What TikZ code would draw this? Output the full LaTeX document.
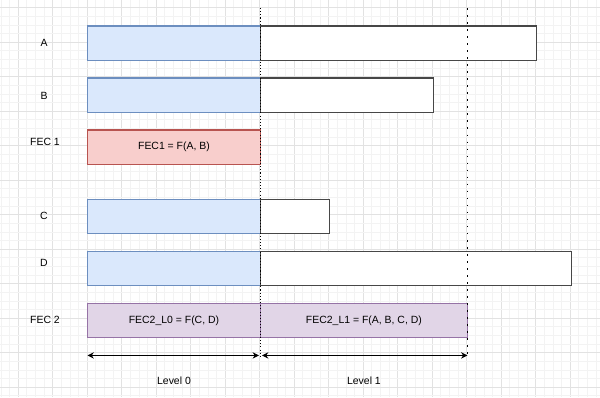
\documentclass[tikz,border=0pt]{standalone}
\usepackage{fontspec}
\setmainfont{Liberation Sans}
\usetikzlibrary{arrows.meta, positioning}
\definecolor{levelblue}{HTML}{DAE8FC}
\definecolor{levelbluedraw}{HTML}{6C8EBF}
\definecolor{fecred}{HTML}{F8CECC}
\definecolor{fecreddraw}{HTML}{B85450}
\definecolor{fecpurple}{HTML}{E1D5E7}
\definecolor{fecpurpledraw}{HTML}{9673A6}
\definecolor{gridminor}{HTML}{F3F3F3}
\definecolor{gridmajor}{HTML}{E2E2E2}

\begin{document}
\begin{tikzpicture}[
  x=0.02cm, y=-0.02cm,
  node distance=0.35cm and 0cm,
  bar/.style={rectangle, draw, line width=0.6pt, minimum height=0.69cm,
              inner sep=0pt, outer sep=0pt,
              font=\fontsize{5.95pt}{7pt}\selectfont},
  lvl/.style={bar, fill=levelblue, draw=levelbluedraw, minimum width=3.46cm},
  rest/.style={bar, fill=white, draw=black!72},
  lbl/.style={font=\fontsize{5.95pt}{7pt}\selectfont, inner sep=0pt},
  dim/.style={{Stealth[length=3.6pt, width=3.6pt]}-{Stealth[length=3.6pt, width=3.6pt]},
              line width=0.6pt},
  cut/.style={line width=0.6pt, dash pattern=on 0.6pt off 1.2pt},
  cutwide/.style={line width=0.9pt, dash pattern=on 0.9pt off 3.1pt},
]
  \useasboundingbox (0,0) rectangle (600,397);
  \fill[white] (0,0) rectangle (600,397);

  % background grid
  \foreach \i in {0,...,69} {
    \pgfmathtruncatemacro{\m}{mod(\i+2,4)}
    \ifnum\m=0
      \draw[gridmajor, line width=0.5pt] (1.05+8.625*\i,0) -- (1.05+8.625*\i,397);
    \else
      \draw[gridminor, line width=0.5pt] (1.05+8.625*\i,0) -- (1.05+8.625*\i,397);
    \fi
  }
  \foreach \i in {0,...,46} {
    \pgfmathtruncatemacro{\m}{mod(\i+3,4)}
    \ifnum\m=0
      \draw[gridmajor, line width=0.5pt] (0,-0.875+8.625*\i) -- (600,-0.875+8.625*\i);
    \else
      \draw[gridminor, line width=0.5pt] (0,-0.875+8.625*\i) -- (600,-0.875+8.625*\i);
    \fi
  }

  % first group
  \node[lvl, anchor=north west] (blueA) at (87.5,26) {};
  \node[rest, minimum width=5.53cm, right=0cm of blueA] (restA) {};
  \node[lvl, below=of blueA] (blueB) {};
  \node[rest, minimum width=3.46cm, right=0cm of blueB] (restB) {};
  \node[bar, fill=fecred, draw=fecreddraw, minimum width=3.46cm, below=of blueB]
    (fec1) {FEC1 = F(A, B)};

  % second group
  \node[lvl, below=0.7cm of fec1] (blueC) {};
  \node[rest, minimum width=1.39cm, right=0cm of blueC] (restC) {};
  \node[lvl, below=of blueC] (blueD) {};
  \node[rest, minimum width=6.22cm, right=0cm of blueD] (restD) {};
  \node[bar, fill=fecpurple, draw=fecpurpledraw, minimum width=3.46cm, below=of blueD]
    (fecL0) {FEC2\_L0 = F(C, D)};
  \node[bar, fill=fecpurple, draw=fecpurpledraw, minimum width=4.14cm, right=0cm of fecL0]
    (fecL1) {FEC2\_L1 = F(A, B, C, D)};

  % row labels
  \node[lbl] (labA) at (44,43) {A};
  \node[lbl] (labB) at (44,95.5) {B};
  \node[lbl] (labF1) at (45,142) {FEC 1};
  \node[lbl] (labC) at (44,216) {C};
  \node[lbl] (labD) at (44,263) {D};
  \node[lbl] (labF2) at (45,320) {FEC 2};

  % level boundaries
  \coordinate (cutL) at (260.5,8);
  \coordinate (cutLend) at (260.5,358);
  \coordinate (cutR) at (467.5,8);
  \coordinate (cutRend) at (467.5,356);
  \draw[cut] (cutL) -- (cutLend);
  \draw[cutwide] (cutR) -- (cutRend);

  % level extents
  \draw[dim] ([yshift=-0.35cm]fecL0.south west) -- ([yshift=-0.35cm,xshift=-0.03cm]fecL0.south east);
  \draw[dim] ([yshift=-0.35cm,xshift=0.03cm]fecL1.south west) -- ([yshift=-0.35cm]fecL1.south east);
  \node[lbl] (lev0) at ([yshift=-0.86cm]fecL0.south) {Level 0};
  \node[lbl] (lev1) at ([yshift=-0.86cm]fecL1.south) {Level 1};
\end{tikzpicture}
\end{document}
